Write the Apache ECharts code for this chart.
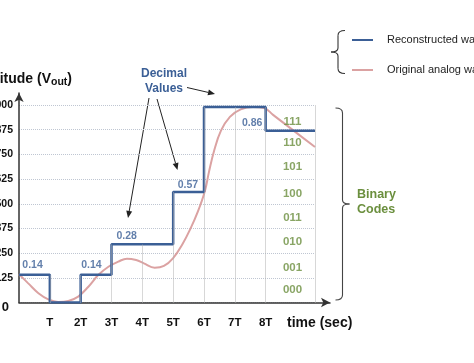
<!DOCTYPE html>
<html>
<head>
<meta charset="utf-8">
<script src="https://cdn.jsdelivr.net/npm/echarts@6/dist/echarts.min.js"></script>
<style>
html,body{margin:0;padding:0;background:#fff;}
#chart{width:474px;height:363px;}
</style>
</head>
<body>
<div id="chart"></div>
<script>
// ---- data ----
const timeTickLabels = ['T', '2T', '3T', '4T', '5T', '6T', '7T', '8T'];
const levelTickLabels = ['0', '0.125', '0.250', '0.375', '0.500', '0.625', '0.750', '0.875', '1.000'];

// reconstructed (sample-and-hold) waveform: time (in T) and held level
const stepTimes  = [0, 1, 2, 3, 4, 5, 6, 7, 8, 9.6];
const stepValues = [0.14, 0, 0.14, 0.295, 0.295, 0.56, 0.99, 0.99, 0.87, 0.87];

// original analog waveform
const analogTimes  = [0, 0.3, 0.63, 0.95, 1.27, 1.6, 1.92, 2.25, 2.57, 2.9, 3.22, 3.5, 3.8, 4.05, 4.4, 4.7, 5.0, 5.3, 5.55, 5.8, 6.03, 6.16, 6.33, 6.55, 6.84, 7.19, 7.59, 7.95, 8.24, 8.79, 9.6];
const analogValues = [0.143, 0.097, 0.047, 0.016, 0.003, 0.008, 0.03, 0.08, 0.139, 0.181, 0.207, 0.222, 0.215, 0.198, 0.176, 0.185, 0.225, 0.295, 0.37, 0.46, 0.565, 0.66, 0.77, 0.87, 0.94, 0.978, 0.99, 0.985, 0.95, 0.884, 0.787];

// decimal value annotations
const decimalTexts = ['0.14', '0.14', '0.28', '0.57', '1.00', '0.86'];
const decimalTimes = [0.44, 2.35, 3.49, 5.48, 6.99, 7.56];
const decimalLevels = [0.19, 0.19, 0.337, 0.595, 1.036, 0.906];

// binary code annotations
const binaryCodes = ['000', '001', '010', '011', '100', '101', '110', '111'];
const binaryTime = 8.87;
const binaryLevels = [0.063, 0.175, 0.306, 0.428, 0.549, 0.686, 0.808, 0.914];

const endTime = 9.6;

// ---- build ----
const FONT = 'Liberation Sans, Arial, Helvetica, sans-serif';
const BLUE = '#3b5f96';
const PINK = '#dba2a2';
const GREEN = '#6b8f3e';
const AXIS = '#333333';

const chart = echarts.init(document.getElementById('chart'), null, {renderer: 'canvas'});

const dropLines = [];
for (let k = 1; k <= 8; k++) {
  const h = Math.max(stepValues[k - 1], stepValues[k]);
  dropLines.push([{coord: [k, 0]}, {coord: [k, h]}]);
}
dropLines.push([{coord: [endTime, 0]}, {coord: [endTime, 1]}]);

// brace made of quadratic curves and straight lines; dir = -1 tip points left, +1 tip points right
function brace(x, yTop, yBot, yMid, curl, dir, color) {
  const st = {stroke: color, lineWidth: 1.1, fill: null};
  const c = -dir * curl;
  const mk = (x1, y1, cx, cy, x2, y2) => ({type: 'bezierCurve', silent: true, shape: {x1, y1, cpx1: cx, cpy1: cy, x2, y2}, style: st});
  const ln = (x1, y1, x2, y2) => ({type: 'line', silent: true, shape: {x1, y1, x2, y2}, style: st});
  return [
    mk(x + c, yTop, x, yTop, x, yTop + 5),
    ln(x, yTop + 5, x, yMid - 4),
    mk(x, yMid - 4, x, yMid, x + dir * curl, yMid),
    mk(x + dir * curl, yMid, x, yMid, x, yMid + 4),
    ln(x, yMid + 4, x, yBot - 5),
    mk(x, yBot - 5, x, yBot, x + c, yBot)
  ];
}
function arrow(x1, y1, x2, y2) {
  const ang = Math.atan2(y2 - y1, x2 - x1);
  const L = 7, W = 3;
  const bx = x2 - L * Math.cos(ang), by = y2 - L * Math.sin(ang);
  const px = -Math.sin(ang) * W, py = Math.cos(ang) * W;
  return [
    {type: 'line', shape: {x1: x1, y1: y1, x2: bx, y2: by}, style: {stroke: '#222', lineWidth: 1}, silent: true},
    {type: 'polygon', shape: {points: [[x2, y2], [bx + px, by + py], [bx - px, by - py]]}, style: {fill: '#222'}, silent: true}
  ];
}

const option = {
  animation: false,
  textStyle: {fontFamily: FONT},
  legend: {
    orient: 'vertical',
    left: 347,
    top: 28,
    itemWidth: 21,
    itemHeight: 2,
    itemGap: 16,
    selectedMode: false,
    textStyle: {fontSize: 11, color: '#222', lineHeight: 14, padding: [0, 0, 0, 9], fontFamily: FONT},
    data: [
      {name: 'Reconstructed waveform', icon: 'rect'},
      {name: 'Original analog waveform', icon: 'rect'}
    ]
  },
  grid: [
    {left: 19, right: 159, top: 105, bottom: 60.5, containLabel: false, outerBoundsMode: 'none'},
    {left: 19, right: 144, top: 93, bottom: 60.5, containLabel: false, outerBoundsMode: 'none'}
  ],
  xAxis: [
    {
      type: 'value', gridIndex: 0, min: 0, max: endTime, interval: 1,
      axisLine: {show: false}, axisTick: {show: false}, splitLine: {show: false},
      axisLabel: {
        margin: 14, fontSize: 11.5, fontWeight: 'bold', color: '#111', fontFamily: FONT,
        showMaxLabel: false,
        formatter: function (v) {
          if (Number.isInteger(v) && v >= 1 && v <= 8) return timeTickLabels[v - 1];
          return '';
        }
      }
    },
    {
      type: 'value', gridIndex: 1, min: 0, max: 1,
      axisLine: {show: true, symbol: ['none', 'arrow'], symbolSize: [7, 9], lineStyle: {color: AXIS, width: 1.5}},
      axisTick: {show: false}, axisLabel: {show: false}, splitLine: {show: false}
    }
  ],
  yAxis: [
    {
      type: 'value', gridIndex: 0, min: 0, max: 1, interval: 0.125,
      axisLine: {show: false}, axisTick: {show: false},
      splitLine: {show: true, lineStyle: {type: 'dotted', color: '#bfc6d2', width: 1}},
      axisLabel: {
        margin: 6, fontSize: 10.5, fontWeight: 'bold', color: '#111', fontFamily: FONT,
        formatter: function (v) {
          const i = Math.round(v / 0.125);
          if (i === 0) return '{z|' + levelTickLabels[0] + '}';
          return levelTickLabels[i];
        },
        rich: {
          z: {fontSize: 13, fontWeight: 'bold', color: '#111', padding: [9, 4, 0, 0], fontFamily: FONT}
        }
      }
    },
    {
      type: 'value', gridIndex: 1, min: 0, max: 1,
      axisLine: {show: true, symbol: ['none', 'arrow'], symbolSize: [7, 9], lineStyle: {color: AXIS, width: 1.5}},
      axisTick: {show: false}, axisLabel: {show: false}, splitLine: {show: false}
    }
  ],
  series: [
    {
      type: 'line', xAxisIndex: 0, yAxisIndex: 0, z: 1,
      data: [[endTime, 0]], symbol: 'none', lineStyle: {opacity: 0}, silent: true,
      markLine: {
        silent: true, symbol: ['none', 'none'], label: {show: false},
        lineStyle: {type: 'dotted', color: '#b0b0b0', width: 1},
        emphasis: {disabled: true},
        data: dropLines
      }
    },
    {
      name: 'Original analog waveform', type: 'line', xAxisIndex: 0, yAxisIndex: 0, z: 3,
      smooth: 0.4, symbol: 'none',
      lineStyle: {color: PINK, width: 2}, itemStyle: {color: PINK},
      data: analogTimes.map((t, i) => [t, analogValues[i]])
    },
    {
      name: 'Reconstructed waveform', type: 'line', xAxisIndex: 0, yAxisIndex: 0, z: 4,
      step: 'end', symbol: 'none',
      lineStyle: {color: BLUE, width: 2.5}, itemStyle: {color: BLUE},
      data: stepTimes.map((t, i) => [t, stepValues[i]])
    },
    {
      type: 'scatter', xAxisIndex: 0, yAxisIndex: 0, z: 5, symbolSize: 1,
      itemStyle: {color: 'rgba(0,0,0,0)'}, silent: true,
      label: {show: true, position: 'inside', fontSize: 10.5, fontWeight: 'bold', color: BLUE, fontFamily: FONT,
        formatter: p => decimalTexts[p.dataIndex]},
      data: decimalTimes.map((t, i) => [t, decimalLevels[i]])
    },
    {
      type: 'scatter', xAxisIndex: 0, yAxisIndex: 0, z: 5, symbolSize: 1,
      itemStyle: {color: 'rgba(0,0,0,0)'}, silent: true,
      label: {show: true, position: 'inside', fontSize: 11.5, fontWeight: 'bold', color: GREEN, fontFamily: FONT,
        formatter: p => binaryCodes[p.dataIndex]},
      data: binaryLevels.map(v => [binaryTime, v])
    }
  ],
  graphic: [
    {
      type: 'text', x: 72, y: 79, silent: true,
      style: {
        text: '{a|Amplitude (V}{s|out}{a|)}', align: 'right', verticalAlign: 'middle',
        rich: {
          a: {fontSize: 14, fontWeight: 'bold', fill: '#111', fontFamily: FONT},
          s: {fontSize: 10.5, fontWeight: 'bold', fill: '#111', padding: [7, 0, 0, 0], fontFamily: FONT}
        }
      }
    },
    {
      type: 'text', x: 287, y: 323, silent: true,
      style: {text: 'time (sec)', fontSize: 14, fontWeight: 'bold', fill: '#111', verticalAlign: 'middle', fontFamily: FONT}
    },
    {
      type: 'text', x: 164, y: 81, silent: true,
      style: {text: 'Decimal\nValues', fontSize: 12, fontWeight: 'bold', fill: BLUE, align: 'center', verticalAlign: 'middle', lineHeight: 15, fontFamily: FONT}
    },
    {
      type: 'text', x: 357, y: 202, silent: true,
      style: {text: 'Binary\nCodes', fontSize: 12.5, fontWeight: 'bold', fill: GREEN, align: 'left', verticalAlign: 'middle', lineHeight: 15, fontFamily: FONT}
    }
  ].concat(
    brace(338, 30.5, 73.5, 52, 7, -1, '#333'),
    brace(342.5, 108, 300, 204, 7, 1, '#444'),
    arrow(149, 98, 128, 218), arrow(157, 99, 177.5, 170), arrow(187, 87.5, 215, 94)
  )
};

chart.setOption(option);
</script>
</body>
</html>
